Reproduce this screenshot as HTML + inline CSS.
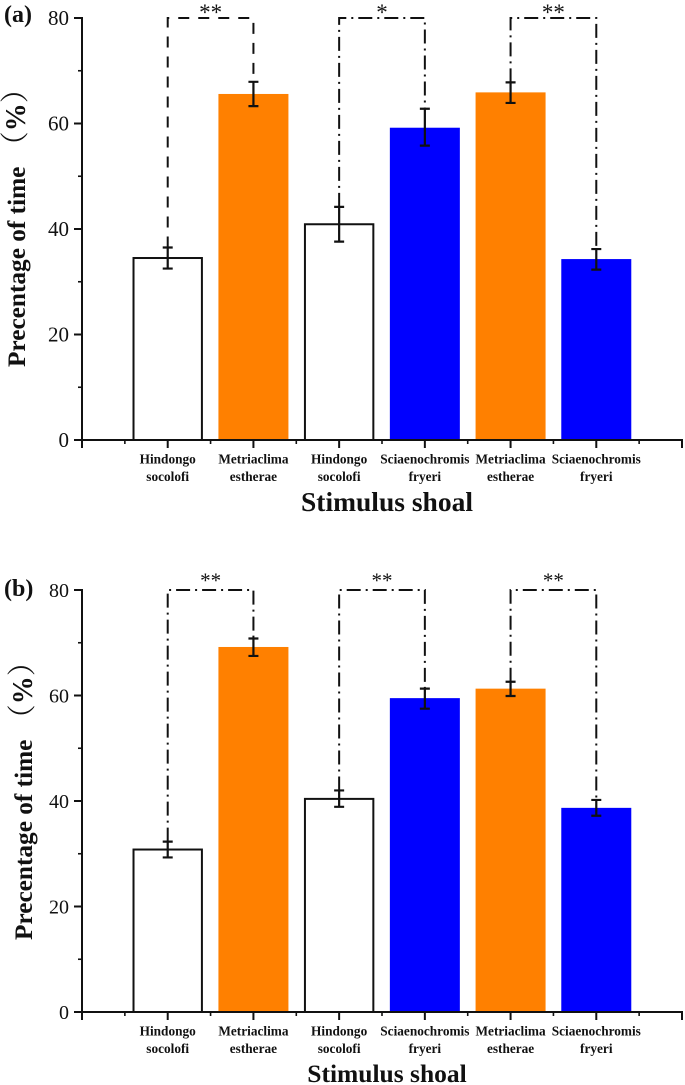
<!DOCTYPE html>
<html lang="en">
<head>
<meta charset="utf-8">
<title>Stimulus shoal preference chart</title>
<style>
  html, body { margin: 0; padding: 0; background: #fff; }
  svg { display: block; filter: blur(0.35px); }
  text { font-family: "Liberation Serif", "Noto Serif CJK SC", serif; fill: #111; }
</style>
</head>
<body>
<svg id="chart" xmlns="http://www.w3.org/2000/svg" width="685" height="1085" viewBox="0 0 685 1085">
  <rect width="685" height="1085" fill="#fff"/>
  <g id="panel-a">
    <text x="4" y="22" font-size="24" font-weight="bold">(a)</text>
    <text transform="translate(25,367) rotate(-90)" font-size="25.3" font-weight="bold">Precentage of time <tspan font-weight="normal" font-size="29">（</tspan><tspan font-size="28">%</tspan><tspan font-weight="normal" font-size="29">）</tspan></text>
    <text x="387" y="511" font-size="27.5" font-weight="bold" text-anchor="middle">Stimulus shoal</text>
  </g>
  <g id="panel-b">
    <text x="4" y="596" font-size="24" font-weight="bold">(b)</text>
    <text transform="translate(32,940) rotate(-90)" font-size="25.3" font-weight="bold">Precentage of time <tspan font-weight="normal" font-size="29">（</tspan><tspan font-size="28">%</tspan><tspan font-weight="normal" font-size="29">）</tspan></text>
    <text x="387" y="1082" font-size="25.5" font-weight="bold" text-anchor="middle">Stimulus shoal</text>
  </g>
</svg>
<script>
var categoriesLine1 = ["Hindongo", "Metriaclima", "Hindongo", "Sciaenochromis", "Metriaclima", "Sciaenochromis"];
var categoriesLine2 = ["socolofi", "estherae", "socolofi", "fryeri", "estherae", "fryeri"];
var barColors = ["white", "orange", "white", "blue", "orange", "blue"];
var yTickValues = [0, 20, 40, 60, 80];
var yMinorTickValues = [10, 30, 50, 70];

var valuesA = [34.5, 65.6, 40.9, 59.2, 65.9, 34.3];
var errorTopA = [36.5, 67.9, 44.2, 62.8, 67.8, 36.2];
var errorBottomA = [32.5, 63.3, 37.6, 55.8, 63.9, 32.3];
var significanceA = ["**", "*", "**"];

var valuesB = [30.8, 69.2, 40.4, 59.5, 61.3, 38.7];
var errorTopB = [32.3, 70.8, 42.0, 61.3, 62.6, 40.2];
var errorBottomB = [29.3, 67.5, 38.9, 57.5, 59.9, 37.2];
var significanceB = ["**", "**", "**"];

var SVG_NS = "http://www.w3.org/2000/svg";
var COLORS = { white: "#fff", orange: "#ff8000", blue: "#0000ff" };
var INK = "#111";

function el(parent, tag, attrs) {
  var node = document.createElementNS(SVG_NS, tag);
  for (var key in attrs) node.setAttribute(key, attrs[key]);
  parent.appendChild(node);
  return node;
}

function drawPanel(panel) {
  var g = document.getElementById(panel.id);
  var left = 82, right = 682, slot = (right - left) / 7;
  var y = function (v) { return panel.y0 - (v / 80) * (panel.y0 - panel.y80); };
  var x = function (i) { return left + slot * (i + 1); };

  panel.values.forEach(function (value, i) {
    var kind = barColors[i];
    var bar;
    if (kind === "white") {
      bar = el(g, "rect", { x: x(i) - 34.2, y: y(value), width: 68.4, height: panel.y0 - y(value), fill: "#fff", stroke: INK, "stroke-width": 2 });
    } else {
      bar = el(g, "rect", { x: x(i) - 35, y: y(value), width: 70, height: panel.y0 - y(value), fill: COLORS[kind] });
    }
    
    
  });

  panel.values.forEach(function (value, i) {
    var top = y(panel.errorTop[i]), bottom = y(panel.errorBottom[i]);
    var err = el(g, "path", {
      d: "M" + (x(i) - 5) + " " + top + "H" + (x(i) + 5) + "M" + x(i) + " " + top + "V" + bottom + "M" + (x(i) - 5) + " " + bottom + "H" + (x(i) + 5),
      fill: "none", stroke: INK, "stroke-width": 2.2
    });
    
    
  });

  panel.significance.forEach(function (stars, k) {
    var a = k * 2, b = k * 2 + 1;
    var dash = panel.dashes[k];
    var bracket = el(g, "path", {
      d: "M" + x(a) + " " + y(panel.errorTop[a]) + "V" + y(80) + "H" + x(b) + "V" + y(panel.errorTop[b]),
      fill: "none", stroke: INK, "stroke-width": 2, "stroke-dasharray": dash
    });
    
    
    var label = el(g, "text", { x: (x(a) + x(b)) / 2, y: y(80) + panel.starDy, "font-size": panel.starSize, "text-anchor": "middle" });
    label.textContent = stars;
    
    
  });

  var yAxis = el(g, "line", { x1: left, x2: left, y1: y(80) - 1, y2: panel.y0 + 1, stroke: INK, "stroke-width": 2 });
  
  
  var xAxis = el(g, "line", { x1: left - 8, x2: right + 1, y1: panel.y0, y2: panel.y0, stroke: INK, "stroke-width": 2 });
  
  

  yTickValues.forEach(function (v) {
    var tick = el(g, "line", { x1: left - 8, x2: left, y1: y(v), y2: y(v), stroke: INK, "stroke-width": 2 });
    
    
    var label = el(g, "text", { x: left - 13, y: y(v) + panel.tickSize * 0.34, "font-size": panel.tickSize, "text-anchor": "end" });
    label.textContent = v;
    
    
  });
  yMinorTickValues.forEach(function (v) {
    var tick = el(g, "line", { x1: left - 4, x2: left, y1: y(v), y2: y(v), stroke: INK, "stroke-width": 1.6 });
    
    
  });

  for (var t = 0; t <= 14; t++) {
    var px = left + (slot / 2) * t;
    var major = t % 2 === 0;
    var xt = el(g, "line", { x1: px, x2: px, y1: panel.y0, y2: panel.y0 + (major ? 8 : 4), stroke: INK, "stroke-width": major ? 2 : 1.6 });
    
    
  }

  categoriesLine1.forEach(function (name, i) {
    var one = el(g, "text", { x: x(i), y: panel.y0 + 23.5, "font-size": 13.3, "font-weight": "bold", "text-anchor": "middle" });
    one.textContent = name;
    
    
    var two = el(g, "text", { x: x(i), y: panel.y0 + 41, "font-size": 13.3, "font-weight": "bold", "text-anchor": "middle" });
    two.textContent = categoriesLine2[i];
    
    
  });
}

var DASHED = "11 9";
var DASHDOT = "14 5 2 5";

drawPanel({
  id: "panel-a", tag: "a", y0: 440, y80: 18,
  values: valuesA, errorTop: errorTopA, errorBottom: errorBottomA, significance: significanceA,
  dashes: [DASHED, DASHDOT, DASHDOT],
  starDy: 2, starSize: 23, tickSize: 21
});
drawPanel({
  id: "panel-b", tag: "b", y0: 1012, y80: 590,
  values: valuesB, errorTop: errorTopB, errorBottom: errorBottomB, significance: significanceB,
  dashes: [DASHDOT, DASHDOT, DASHDOT],
  starDy: -2.5, starSize: 21, tickSize: 20
});
</script>
</body>
</html>
